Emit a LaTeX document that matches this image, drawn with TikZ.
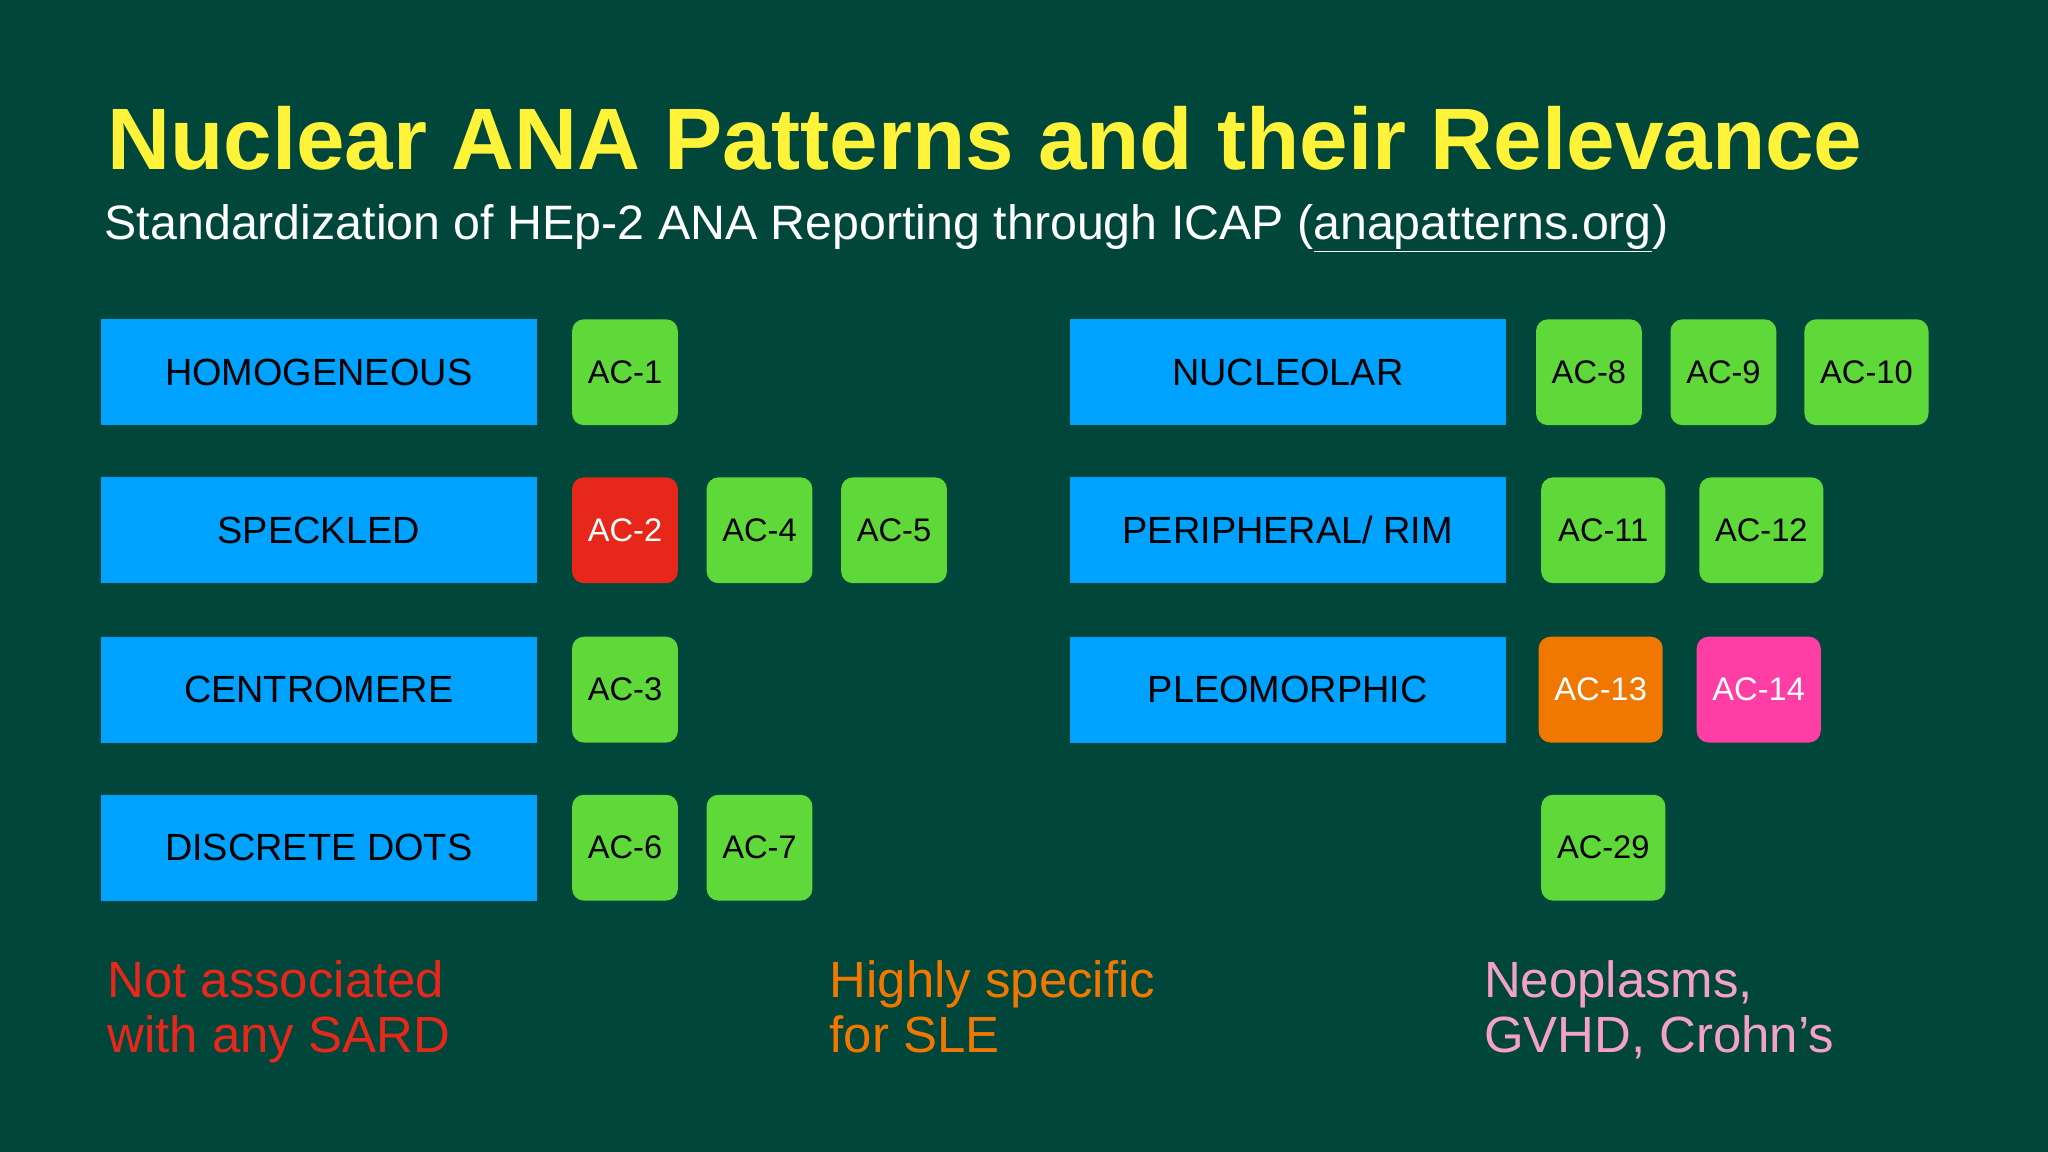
\documentclass[tikz,border=0pt]{standalone}
\usepackage{fontspec}
\setmainfont{Liberation Sans}
\definecolor{bg}{RGB}{0,70,58}
\definecolor{cblue}{RGB}{0,162,255}
\definecolor{cgreen}{RGB}{95,217,58}
\definecolor{cred}{RGB}{232,39,27}
\definecolor{corange}{RGB}{240,120,0}
\definecolor{cpink}{RGB}{255,62,165}
\definecolor{ctitle}{RGB}{255,243,58}
\definecolor{tpink}{RGB}{245,160,200}
\tikzset{
 big/.style={fill=cblue,minimum width=334pt,minimum height=81pt,inner sep=0pt,font=\fontsize{29}{34}\selectfont,text=black},
 ac/.style={fill=cgreen,rounded corners=9pt,minimum width=81pt,minimum height=81pt,inner sep=0pt,font=\fontsize{25}{29}\selectfont,text=black},
 acw/.style={ac,minimum width=95pt},
 note/.style={anchor=base west,inner sep=0pt,align=left,font=\fontsize{39}{42}\selectfont}
}
\begin{document}
\begin{tikzpicture}[x=1pt,y=-1pt]
\fill[bg] (0,0) rectangle (1568,882);
\useasboundingbox (0,0) rectangle (1568,882);
\node[anchor=base west,inner sep=0pt,text=ctitle,font=\bfseries\fontsize{66.8}{80}\selectfont] (title) at (82,130) {Nuclear ANA Patterns and their Relevance};
\node[anchor=base west,inner sep=0pt,text=white,font=\fontsize{37}{42}\selectfont] (sub) at (80,183) {Standardization of HEp-2 ANA Reporting through ICAP (\underline{anapatterns.org})};
% left
\node[big] (hom) at (244,285) {HOMOGENEOUS};
\node[big] (spe) at (244,406) {SPECKLED};
\node[big] (cen) at (244,528) {CENTROMERE};
\node[big] (dis) at (244,649) {DISCRETE DOTS};
\node[ac] (a1) at (478.5,285) {AC-1};
\node[ac,fill=cred,text=white] (a2) at (478.5,406) {AC-2};
\node[ac] (a4) at (581.5,406) {AC-4};
\node[ac] (a5) at (684.5,406) {AC-5};
\node[ac] (a3) at (478.5,528) {AC-3};
\node[ac] (a6) at (478.5,649) {AC-6};
\node[ac] (a7) at (581.5,649) {AC-7};
% right
\node[big] (nuc) at (986,285) {NUCLEOLAR};
\node[big] (per) at (986,406) {PERIPHERAL/ RIM};
\node[big] (ple) at (986,528) {PLEOMORPHIC};
\node[ac] (a8) at (1216.5,285) {AC-8};
\node[ac] (a9) at (1319.5,285) {AC-9};
\node[acw] (a10) at (1429,285) {AC-10};
\node[acw] (a11) at (1227.5,406) {AC-11};
\node[acw] (a12) at (1348.5,406) {AC-12};
\node[acw,fill=corange,text=white] (a13) at (1225.5,528) {AC-13};
\node[acw,fill=cpink,text=white] (a14) at (1346.5,528) {AC-14};
\node[acw] (a29) at (1227.5,649) {AC-29};
% notes
\node[note,text=cred] (n1) at (82,806) {Not associated\\with any SARD};
\node[note,text=corange] (n2) at (635,806) {Highly specific\\for SLE};
\node[note,text=tpink] (n3) at (1136,806) {Neoplasms,\\GVHD, Crohn’s};
\end{tikzpicture}
\end{document}
